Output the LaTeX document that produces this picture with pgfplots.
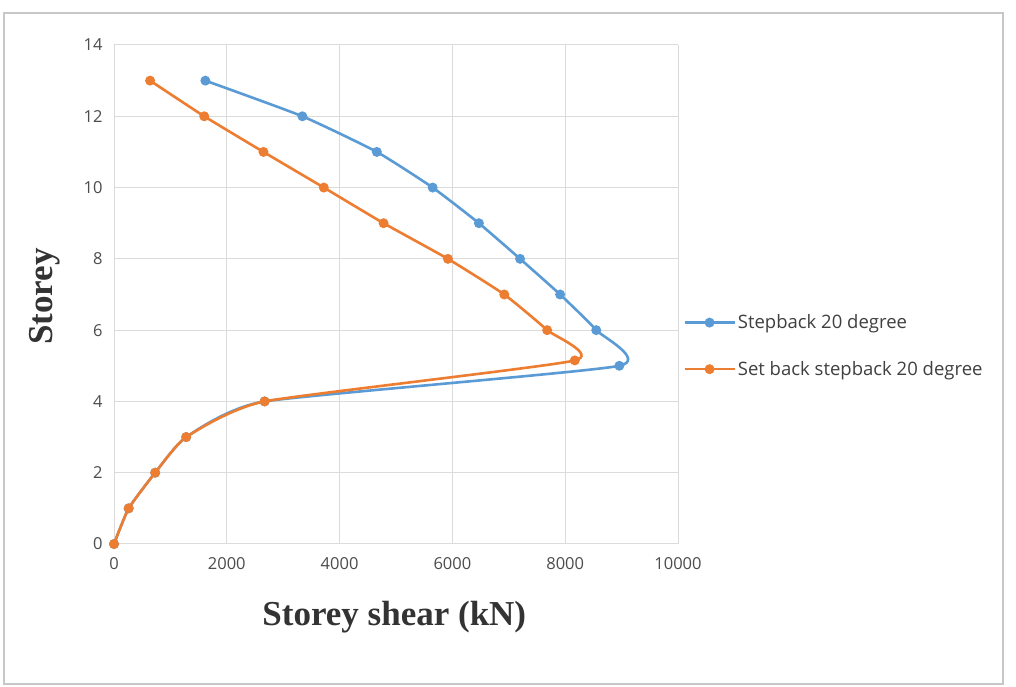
\documentclass[border=0pt]{standalone}
\usepackage{pgfplots}
\pgfplotsset{compat=1.18}
\usepackage{fontspec}
\setmainfont{Liberation Serif}
\newfontfamily\tickfont{Open Sans}
\definecolor{xblue}{HTML}{5B9BD5}
\definecolor{xorange}{HTML}{ED7D31}
\begin{document}
\begin{tikzpicture}[x=1pt,y=1pt]
\useasboundingbox (0,0) rectangle (1016,687);
\fill[white] (0,0) rectangle (1016,687);
\draw[black!22, line width=1.6pt] (4,3) rectangle (1003,674);
\begin{axis}[
  at={(114pt,143pt)}, anchor=south west,
  scale only axis, width=564pt, height=499pt,
  xmin=0, xmax=10000, ymin=0, ymax=14,
  xtick={0,2000,...,10000}, ytick={0,2,...,14},
  scaled ticks=false,
  axis line style={draw=none},
  grid=major, major grid style={black!14, line width=1pt},
  tick style={draw=none},
  /pgf/number format/1000 sep={},
  /pgf/number format/assume math mode=true,
  ticklabel style={font=\tickfont\fontsize{16.5}{18}\selectfont, text=black!70},
  xticklabel style={yshift=-10pt},
  yticklabel style={xshift=-8pt},
  xlabel={\bfseries Storey shear (kN)},
  ylabel={\bfseries Storey},
  label style={font=\fontsize{35}{40}\selectfont, text=black!80},
  xlabel style={at={(axis description cs:0.497,0)}, anchor=center, yshift=-73pt},
  ylabel style={at={(axis description cs:0,0.496)}, anchor=center, yshift=69pt},
  legend style={at={(rel axis cs:1.009,0.397)}, anchor=west, draw=none, fill=none,
    font=\tickfont\fontsize{18.5}{20}\selectfont, text=black!75,
    row sep=27pt, inner sep=0pt, cells={anchor=west}},
  legend image code/.code={\draw[#1, mark repeat=2, mark phase=2] plot coordinates {(0pt,0pt) (25pt,0pt) (50pt,0pt)};},
  clip=false,
]
\addplot[xblue, line width=2.6pt, smooth, tension=0.3, mark=*, mark size=3.6pt, mark options={solid}]
coordinates {
(1620,13) (3340,12) (4660,11) (5650,10) (6470,9) (7200,8) (7910,7) (8550,6) (8960,5)
(2670,4) (1280,3) (730,2) (260,1) (0,0)
};
\addlegendentry{Stepback 20 degree}
\addplot[xorange, line width=2.6pt, smooth, tension=0.3, mark=*, mark size=3.6pt, mark options={solid}]
coordinates {
(640,13) (1600,12) (2650,11) (3720,10) (4780,9) (5920,8) (6920,7) (7680,6) (8170,5.15)
(2670,4) (1280,3) (730,2) (260,1) (0,0)
};
\addlegendentry{Set back stepback 20 degree}
\end{axis}
\end{tikzpicture}
\end{document}
